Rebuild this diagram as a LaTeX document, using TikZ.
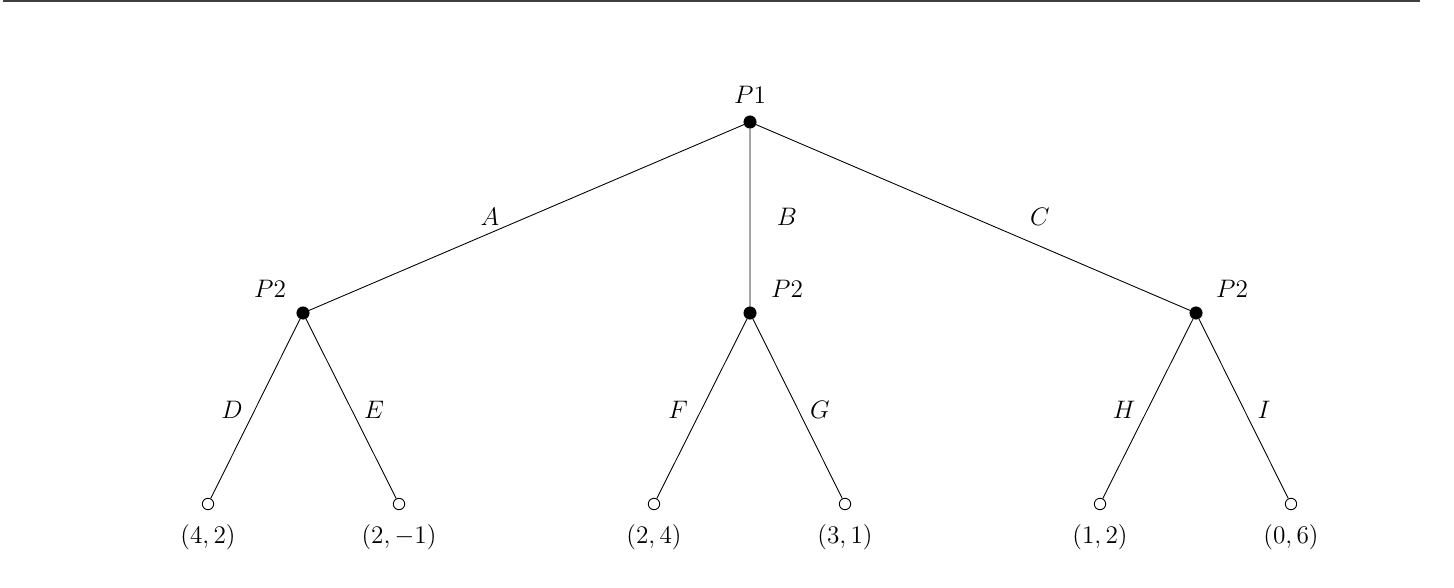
\documentclass[tikz,border=0pt]{standalone}
\begin{document}
\begin{tikzpicture}[x=0.02cm,y=-0.02cm,font=\fontsize{15}{18}\selectfont,
  dec/.style={circle,fill=black,draw=black,inner sep=0pt,minimum size=7pt},
  leaf/.style={circle,fill=white,draw=black,line width=0.5pt,inner sep=0pt,minimum size=6.5pt},
  edge/.style={draw=black,line width=0.5pt}]
\useasboundingbox (0,0) rectangle (1454,588);
\draw[line width=1.2pt,black!75] (3,1) -- (1420,1);
\node[dec] (r) at (750,122) {};
\node[dec] (a) at (303,313) {};
\node[dec] (b) at (750,313) {};
\node[dec] (c) at (1196,313) {};
\node[leaf] (l1) at (208,504) {};
\node[leaf] (l2) at (399,504) {};
\node[leaf] (l3) at (654,504) {};
\node[leaf] (l4) at (845,504) {};
\node[leaf] (l5) at (1100,504) {};
\node[leaf] (l6) at (1291,504) {};
\node (tr) at (750,95) {$P1$};
\node (ta) at (270,289) {$P2$};
\node (tb) at (787,289) {$P2$};
\node (tc) at (1232,289) {$P2$};
\draw[edge] (r) -- (a) (r) -- (b) (r) -- (c);
\draw[edge] (a) -- (l1) (a) -- (l2) (b) -- (l3) (b) -- (l4) (c) -- (l5) (c) -- (l6);
\node (eA) at (490,217) {$A$};
\node (eB) at (787,217) {$B$};
\node (eC) at (1040,217) {$C$};
\node (eD) at (232,410) {$D$};
\node (eE) at (374,410) {$E$};
\node (eF) at (678,410) {$F$};
\node (eG) at (820,410) {$G$};
\node (eH) at (1124,410) {$H$};
\node (eI) at (1264,410) {$I$};
\node (p1) at (208,537) {$(4,2)$};
\node (p2) at (399,537) {$(2,-1)$};
\node (p3) at (654,537) {$(2,4)$};
\node (p4) at (845,537) {$(3,1)$};
\node (p5) at (1100,537) {$(1,2)$};
\node (p6) at (1291,537) {$(0,6)$};
\end{tikzpicture}
\end{document}
